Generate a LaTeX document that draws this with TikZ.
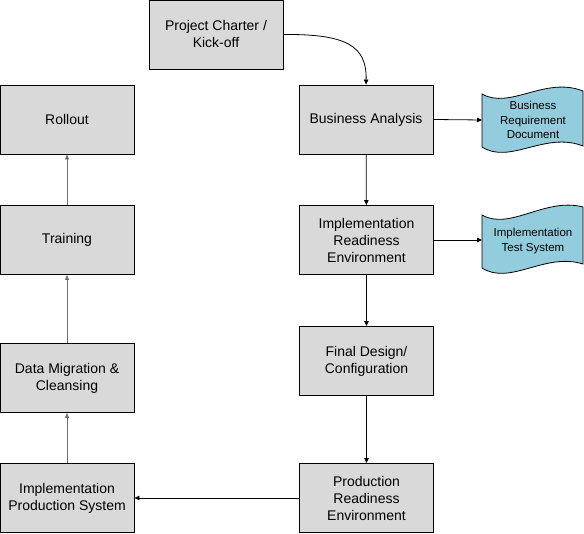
\documentclass[tikz,border=0pt]{standalone}
\usepackage{fontspec}
\setmainfont{Liberation Sans}
\usetikzlibrary{arrows.meta}
\definecolor{boxgray}{RGB}{217,217,217}
\definecolor{docblue}{RGB}{147,205,221}
\definecolor{linegray}{RGB}{110,110,110}
\begin{document}
\begin{tikzpicture}[x=1pt,y=-1pt,
  stepbox/.style={draw=black,line width=0.9pt,fill=boxgray,align=center,
    minimum width=134pt,minimum height=69pt,inner sep=0pt,
    font=\fontsize{14}{17}\selectfont},
  doctext/.style={align=center,inner sep=0pt,font=\fontsize{11.5}{14.5}\selectfont},
  docshape/.style={draw=black,line width=0.8pt,fill=docblue},
  flow/.style={draw=black,line width=0.8pt,-{Triangle[length=5pt,width=4.5pt]}},
  flowgray/.style={draw=linegray,line width=0.7pt,-{Triangle[length=5pt,width=4pt]}}]
\useasboundingbox (0,0) rectangle (584,534);

% right column
\node[stepbox] (charter) at (216,34.5) {Project Charter /\\Kick-off};
\node[stepbox] (ba) at (366,119.5) {Business Analysis};
\node[stepbox] (ire) at (366.5,240) {Implementation\\Readiness\\Environment};
\node[stepbox] (fd) at (366.5,361) {Final Design/\\Configuration};
\node[stepbox] (pre) at (366.5,498) {Production\\Readiness\\Environment};

% left column
\node[stepbox] (rollout) at (67,119.5) {Rollout};
\node[stepbox] (training) at (67,240) {Training};
\node[stepbox] (dm) at (67,378) {Data Migration \&\\Cleansing};
\node[stepbox] (ips) at (67,498) {Implementation\\Production System};

% documents
\path[docshape] (482,94) .. controls (510,110) and (545,76) .. (583,91)
  -- (583,146) .. controls (545,131) and (510,165) .. (482,147) -- cycle;
\node[doctext] (brd) at (533,120) {Business\\Requirement\\Document};
\coordinate (brdL) at (482,120);

\path[docshape] (482,215) .. controls (510,231) and (545,197) .. (583,207)
  -- (583,264) .. controls (545,252) and (510,286) .. (482,268) -- cycle;
\node[doctext] (its) at (533,241) {Implementation\\Test System};
\coordinate (itsL) at (482,240);

% connectors
\draw[flow] (charter.east) .. controls (345,34) and (367,45) .. (ba.north);
\draw[flow] (ba.east) -- (brdL);
\draw[flow] (ire.east) -- (itsL);
\draw[flow] (ba) -- (ire);
\draw[flow] (ire) -- (fd);
\draw[flow] (fd) -- (pre);
\draw[flow] (pre) -- (ips);
\draw[flowgray] (ips) -- (dm);
\draw[flowgray] (dm) -- (training);
\draw[flowgray] (training) -- (rollout);
\end{tikzpicture}
\end{document}
